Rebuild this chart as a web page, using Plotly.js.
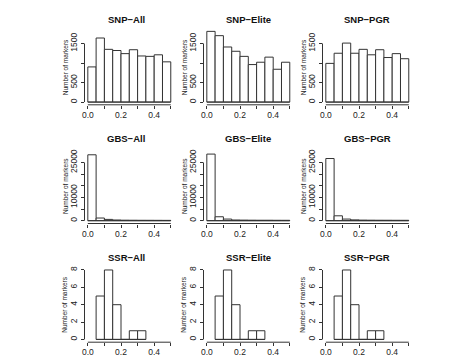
<!DOCTYPE html>
<html>
<head>
<meta charset="utf-8">
<script src="https://cdn.plot.ly/plotly-3.0.1.min.js"></script>
<style>html,body{margin:0;padding:0;background:#fff;}#chart{width:474px;height:362px;}</style>
</head>
<body>
<div id="chart"></div>
<script>
// ---- data ----
const binCenters = [0.025, 0.075, 0.125, 0.175, 0.225, 0.275, 0.325, 0.375, 0.425, 0.475];
const ssrCenters = [0.075, 0.125, 0.175, 0.225, 0.275, 0.325];

const snpAll   = [900, 1640, 1350, 1320, 1240, 1340, 1180, 1170, 1210, 1030];
const snpElite = [1810, 1700, 1410, 1300, 1170, 960, 1020, 1150, 840, 1020];
const snpPgr   = [990, 1250, 1510, 1250, 1350, 1210, 1340, 1140, 1240, 1110];

const gbsAll   = [28300, 1150, 560, 300, 220, 200, 180, 170, 160, 150];
const gbsElite = [28600, 1700, 700, 300, 250, 220, 200, 200, 180, 170];
const gbsPgr   = [26700, 2100, 700, 350, 250, 220, 200, 190, 180, 170];

const ssrAll   = [5, 8, 4, 0, 1, 1];
const ssrElite = [5, 8, 4, 0, 1, 1];
const ssrPgr   = [5, 8, 4, 0, 1, 1];

const panelTitles = ["SNP\u2212All", "SNP\u2212Elite", "SNP\u2212PGR",
                     "GBS\u2212All", "GBS\u2212Elite", "GBS\u2212PGR",
                     "SSR\u2212All", "SSR\u2212Elite", "SSR\u2212PGR"];

const xTickVals = [0, 0.1, 0.2, 0.3, 0.4, 0.5];
const xTickText = ["0.0", "", "0.2", "", "0.4", ""];
const snpTickVals = [0, 500, 1000, 1500];
const snpTickText = ["0", "500", "", "1500"];
const gbsTickVals = [0, 5000, 10000, 15000, 20000, 25000];
const gbsTickText = ["0", "", "10000", "", "", "25000"];
const ssrTickVals = [0, 2, 4, 6, 8];
const ssrTickText = ["0", "2", "4", "6", "8"];
const yAxisLabel = "Number of markers";

// ---- build ----
const W = 474, H = 362;
const colLeft = [84.5, 203.5, 322.5], plotW = 89.6;
const rowTop = [29.8, 148.5, 267.2], plotH = 75;
const lineCol = "#333333", textCol = "#222222";
const FONT = "Liberation Sans, Arial, Helvetica, sans-serif";

const rows = [
  {vals: [snpAll, snpElite, snpPgr], x: binCenters, range: [-70, 1850], tv: snpTickVals, tt: snpTickText},
  {vals: [gbsAll, gbsElite, gbsPgr], x: binCenters, range: [-1200, 31000], tv: gbsTickVals, tt: gbsTickText},
  {vals: [ssrAll, ssrElite, ssrPgr], x: ssrCenters, range: [-0.32, 8.32], tv: ssrTickVals, tt: ssrTickText}
];

const traces = [];
const layout = {
  width: W, height: H,
  margin: {l: 0, r: 0, t: 0, b: 0},
  paper_bgcolor: "#fff", plot_bgcolor: "#fff",
  showlegend: false,
  bargap: 0,
  font: {family: FONT, color: textCol, size: 8},
  shapes: [], annotations: []
};

let k = 0;
rows.forEach((row, r) => {
  for (let c = 0; c < 3; c++) {
    k++;
    const s = k === 1 ? "" : String(k);
    const xa = "x" + s, ya = "y" + s;
    const vals = row.vals[c];
    traces.push({
      type: "bar", x: row.x, y: vals, width: row.x.map(() => 0.05),
      xaxis: xa, yaxis: ya,
      marker: {color: "#ffffff", line: {color: lineCol, width: 1}},
      hoverinfo: "skip"
    });
    const x0 = colLeft[c] / W, x1 = (colLeft[c] + plotW) / W;
    const y1 = 1 - rowTop[r] / H, y0 = 1 - (rowTop[r] + plotH) / H;
    layout["xaxis" + s] = {
      domain: [x0, x1], anchor: ya, range: [-0.02, 0.52],
      showgrid: false, zeroline: false, showline: false,
      tickmode: "array", tickvals: xTickVals, ticktext: xTickText,
      ticks: "outside", ticklen: 3, tickwidth: 1, tickcolor: lineCol,
      tickfont: {size: 8.5, color: textCol, family: FONT},
      ticklabelstandoff: -1, fixedrange: true
    };
    layout["yaxis" + s] = {
      domain: [y0, y1], anchor: xa, range: row.range,
      showgrid: false, zeroline: false, showline: false,
      tickmode: "array", tickvals: row.tv, ticktext: row.tt,
      ticks: "outside", ticklen: 3, tickwidth: 1, tickcolor: lineCol,
      tickangle: -90,
      tickfont: {size: 8.5, color: textCol, family: FONT},
      ticklabelstandoff: 0, fixedrange: true
    };
    // R-style axis lines spanning first to last tick
    layout.shapes.push({type: "line", xref: xa, yref: ya + " domain",
      x0: xTickVals[0], x1: xTickVals[xTickVals.length - 1], y0: 0, y1: 0,
      line: {color: lineCol, width: 1}});
    layout.shapes.push({type: "line", xref: xa + " domain", yref: ya,
      x0: 0, x1: 0, y0: row.tv[0], y1: row.tv[row.tv.length - 1],
      line: {color: lineCol, width: 1}});
    // baseline under the bins (R draws zero-count bins as flat rectangles)
    layout.shapes.push({type: "line", xref: xa, yref: ya,
      x0: row.x[0] - 0.025, x1: row.x[row.x.length - 1] + 0.025, y0: 0, y1: 0,
      line: {color: lineCol, width: 1}});
    // panel title
    layout.annotations.push({
      text: "<b>" + panelTitles[k - 1] + "</b>",
      xref: "paper", yref: "paper",
      x: (colLeft[c] + plotW / 2 - (c === 0 ? 3 : 0)) / W,
      y: 1 - (rowTop[r] - 10) / H,
      xanchor: "center", yanchor: "middle", showarrow: false,
      font: {size: 9.5, color: "#111", family: FONT}
    });
    // y-axis title
    layout.annotations.push({
      text: yAxisLabel, textangle: -90,
      xref: "paper", yref: "paper",
      x: (colLeft[c] - 19.5) / W, y: 1 - (rowTop[r] + plotH / 2) / H,
      xanchor: "center", yanchor: "middle", showarrow: false,
      font: {size: 6.5, color: textCol, family: FONT}
    });
  }
});

Plotly.newPlot("chart", traces, layout, {displayModeBar: false, staticPlot: true});
</script>
</body>
</html>
